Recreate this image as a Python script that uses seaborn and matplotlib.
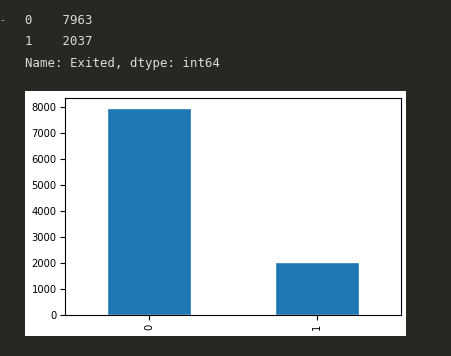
import matplotlib
matplotlib.use("Agg")
import matplotlib.pyplot as plt
import seaborn as sns
import pandas as pd
from matplotlib.patches import Rectangle

# Data
categories = ["0", "1"]
counts = [7963, 2037]
series_name = "Exited"

W, H = 451, 356
DPI = 100
BG = "#272822"
TXT = "#dcdcdc"

sns.set_style("white")
plt.rcParams["font.family"] = ["DejaVu Sans"]

fig = plt.figure(figsize=(W / DPI, H / DPI), dpi=DPI, facecolor=BG)

def fx(px):
    return px / W

def fy(py):
    return 1 - py / H

# white output panel (behind the chart)
fig.patches.append(Rectangle((fx(25), fy(336)), fx(406) - fx(25), fy(91) - fy(336),
                             transform=fig.transFigure, facecolor="white",
                             edgecolor="none", zorder=-10))

# text output above the chart
mono = ["DejaVu Sans Mono", "Liberation Mono"]
lines = [f"{categories[0]}    {counts[0]}",
         f"{categories[1]}    {counts[1]}",
         f"Name: {series_name}, dtype: int64"]
for i, ln in enumerate(lines):
    fig.text(fx(25), fy(20 + i * 21.5), ln, color=TXT, fontsize=8.9,
             family=mono, va="center", ha="left")
fig.text(fx(0), fy(20), "-", color="#aaaaaa", fontsize=8, va="center", ha="left")

ax = fig.add_axes([fx(65), fy(315), fx(401) - fx(65), fy(98) - fy(315)])
ax.set_zorder(5)
ax.set_facecolor("white")

df = pd.DataFrame({"cat": categories, "count": counts})
sns.barplot(data=df, x="cat", y="count", color="#1f77b4", saturation=1,
            width=0.5, ax=ax)
ax.set_xlim(-0.5, 1.5)
ax.set_ylim(0, max(counts) * 1.05)
ax.set_yticks(range(0, 8001, 1000))
ax.set_xlabel("")
ax.set_ylabel("")
ax.tick_params(axis="both", labelsize=7.2, colors="black", length=3.5,
               width=0.8, direction="out", left=True, bottom=True, pad=2.5)
ax.tick_params(axis="x", labelrotation=90)
for s in ax.spines.values():
    s.set_visible(True)
    s.set_color("black")
    s.set_linewidth(0.8)

fig.savefig("out.png", dpi=DPI, facecolor=BG)
